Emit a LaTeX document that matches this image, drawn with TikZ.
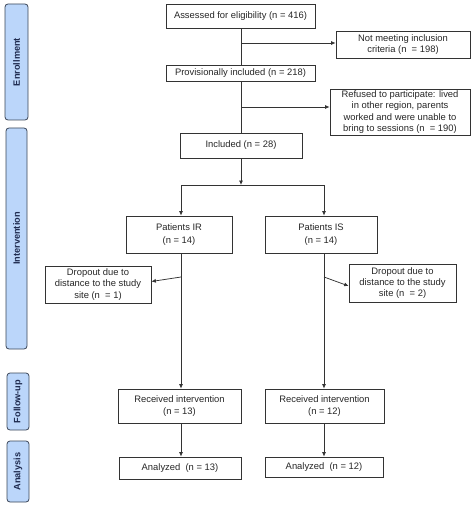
\documentclass[tikz,border=0pt]{standalone}
\usepackage{fontspec}
\setmainfont{Liberation Sans}
\usetikzlibrary{arrows.meta}
\definecolor{sidefill}{HTML}{BBD6FA}
\definecolor{sideline}{HTML}{3A4658}
\definecolor{sidetext}{HTML}{1E2A4E}
\definecolor{linec}{HTML}{333333}
\begin{document}
\begin{tikzpicture}[x=1pt,y=-1pt,
  box/.style={draw=linec, line width=0.7pt, align=center, inner sep=0pt,
    font=\fontsize{9.4}{11.3}\selectfont, text=black!85},
  side/.style={draw=sideline, fill=sidefill, line width=0.8pt, rounded corners=3pt,
    inner sep=0pt, font=\bfseries\fontsize{9.2}{10}\selectfont, text=sidetext},
  conn/.style={draw=linec, line width=0.75pt},
  arr/.style={conn, -{Latex[length=4.5pt,width=4pt]}}
]
\useasboundingbox (0,0) rectangle (474,505);
% side bars
\node[side, minimum width=23pt, minimum height=116pt] (sEnr) at (16.5,62) {\rotatebox{90}{Enrollment}};
\node[side, minimum width=21pt, minimum height=221pt] (sInt) at (16.5,238.5) {\rotatebox{90}{Intervention}};
\node[side, minimum width=22pt, minimum height=57pt] (sFol) at (18,401.5) {\rotatebox{90}{Follow-up}};
\node[side, minimum width=22pt, minimum height=61pt] (sAna) at (18,471.5) {\rotatebox{90}{Analysis}};
% boxes
\node[box, minimum width=149pt, minimum height=24pt] (ass) at (240.5,16) {Assessed for eligibility (n = 416)};
\node[box, minimum width=134pt, minimum height=27pt] (notm) at (403,44.5) {Not meeting inclusion\\criteria (n\ \ = 198)};
\node[box, minimum width=149pt, minimum height=16pt] (prov) at (240.5,73) {Provisionally included (n = 218)};
\node[box, minimum width=140pt, minimum height=46pt] (ref) at (400,112) {Refused to participate: lived\\in other region, parents\\worked and were unable to\\bring to sessions (n\ \ = 190)};
\node[box, minimum width=122pt, minimum height=25pt] (inc) at (241,145.5) {Included (n = 28)};
\node[box, minimum width=106pt, minimum height=37pt] (ir) at (179,234.5) {Patients IR\\[1.5pt](n = 14)};
\node[box, minimum width=112pt, minimum height=37pt] (is) at (321,234.5) {Patients IS\\[1.5pt](n = 14)};
\node[box, minimum width=106pt, minimum height=37pt] (dl) at (98,284.5) {Dropout due to\\distance to the study\\site (n\ \ = 1)};
\node[box, minimum width=107pt, minimum height=38pt] (dr) at (402.5,283) {Dropout due to\\distance to the study\\site (n\ \ = 2)};
\node[box, minimum width=123pt, minimum height=34pt] (rir) at (179.5,406) {Received intervention\\(n = 13)};
\node[box, minimum width=119pt, minimum height=34pt] (ris) at (324.5,406) {Received intervention\\(n = 12)};
\node[box, minimum width=122pt, minimum height=22pt] (air) at (180,468) {Analyzed\ \ (n = 13)};
\node[box, minimum width=118pt, minimum height=20pt] (ais) at (324,467) {Analyzed\ \ (n = 12)};
% helper coordinates
\coordinate (m1) at (241,43);
\coordinate (m2) at (241,107);
\coordinate (sp) at (241,185);
\coordinate (spL) at (181,185);
\coordinate (spR) at (324,185);
\coordinate (cL) at (181,0);
\coordinate (cR) at (324,0);
\coordinate (dlp) at (181,277);
\coordinate (drp) at (324,277);
% connectors
\draw[conn] (ass.south -| m1) -- (prov.north -| m1);
\draw[arr] (m1) -- (notm.west |- m1);
\draw[conn] (prov.south -| m2) -- (inc.north -| m2);
\draw[arr] (m2) -- (ref.west |- m2);
\draw[arr] (inc.south -| sp) -- (sp);
\draw[conn] (spL) -- (spR);
\draw[arr] (spL) -- (ir.north -| spL);
\draw[arr] (spR) -- (is.north -| spR);
\draw[arr] (ir.south -| cL) -- (rir.north -| cL);
\draw[arr] (is.south -| cR) -- (ris.north -| cR);
\draw[arr] (dlp) -- ([yshift=3pt]dl.east);
\draw[arr] (drp) -- ([yshift=-3pt]dr.west);
\draw[arr] (rir.south -| cL) -- (air.north -| cL);
\draw[arr] (ris.south -| cR) -- (ais.north -| cR);
\end{tikzpicture}
\end{document}
